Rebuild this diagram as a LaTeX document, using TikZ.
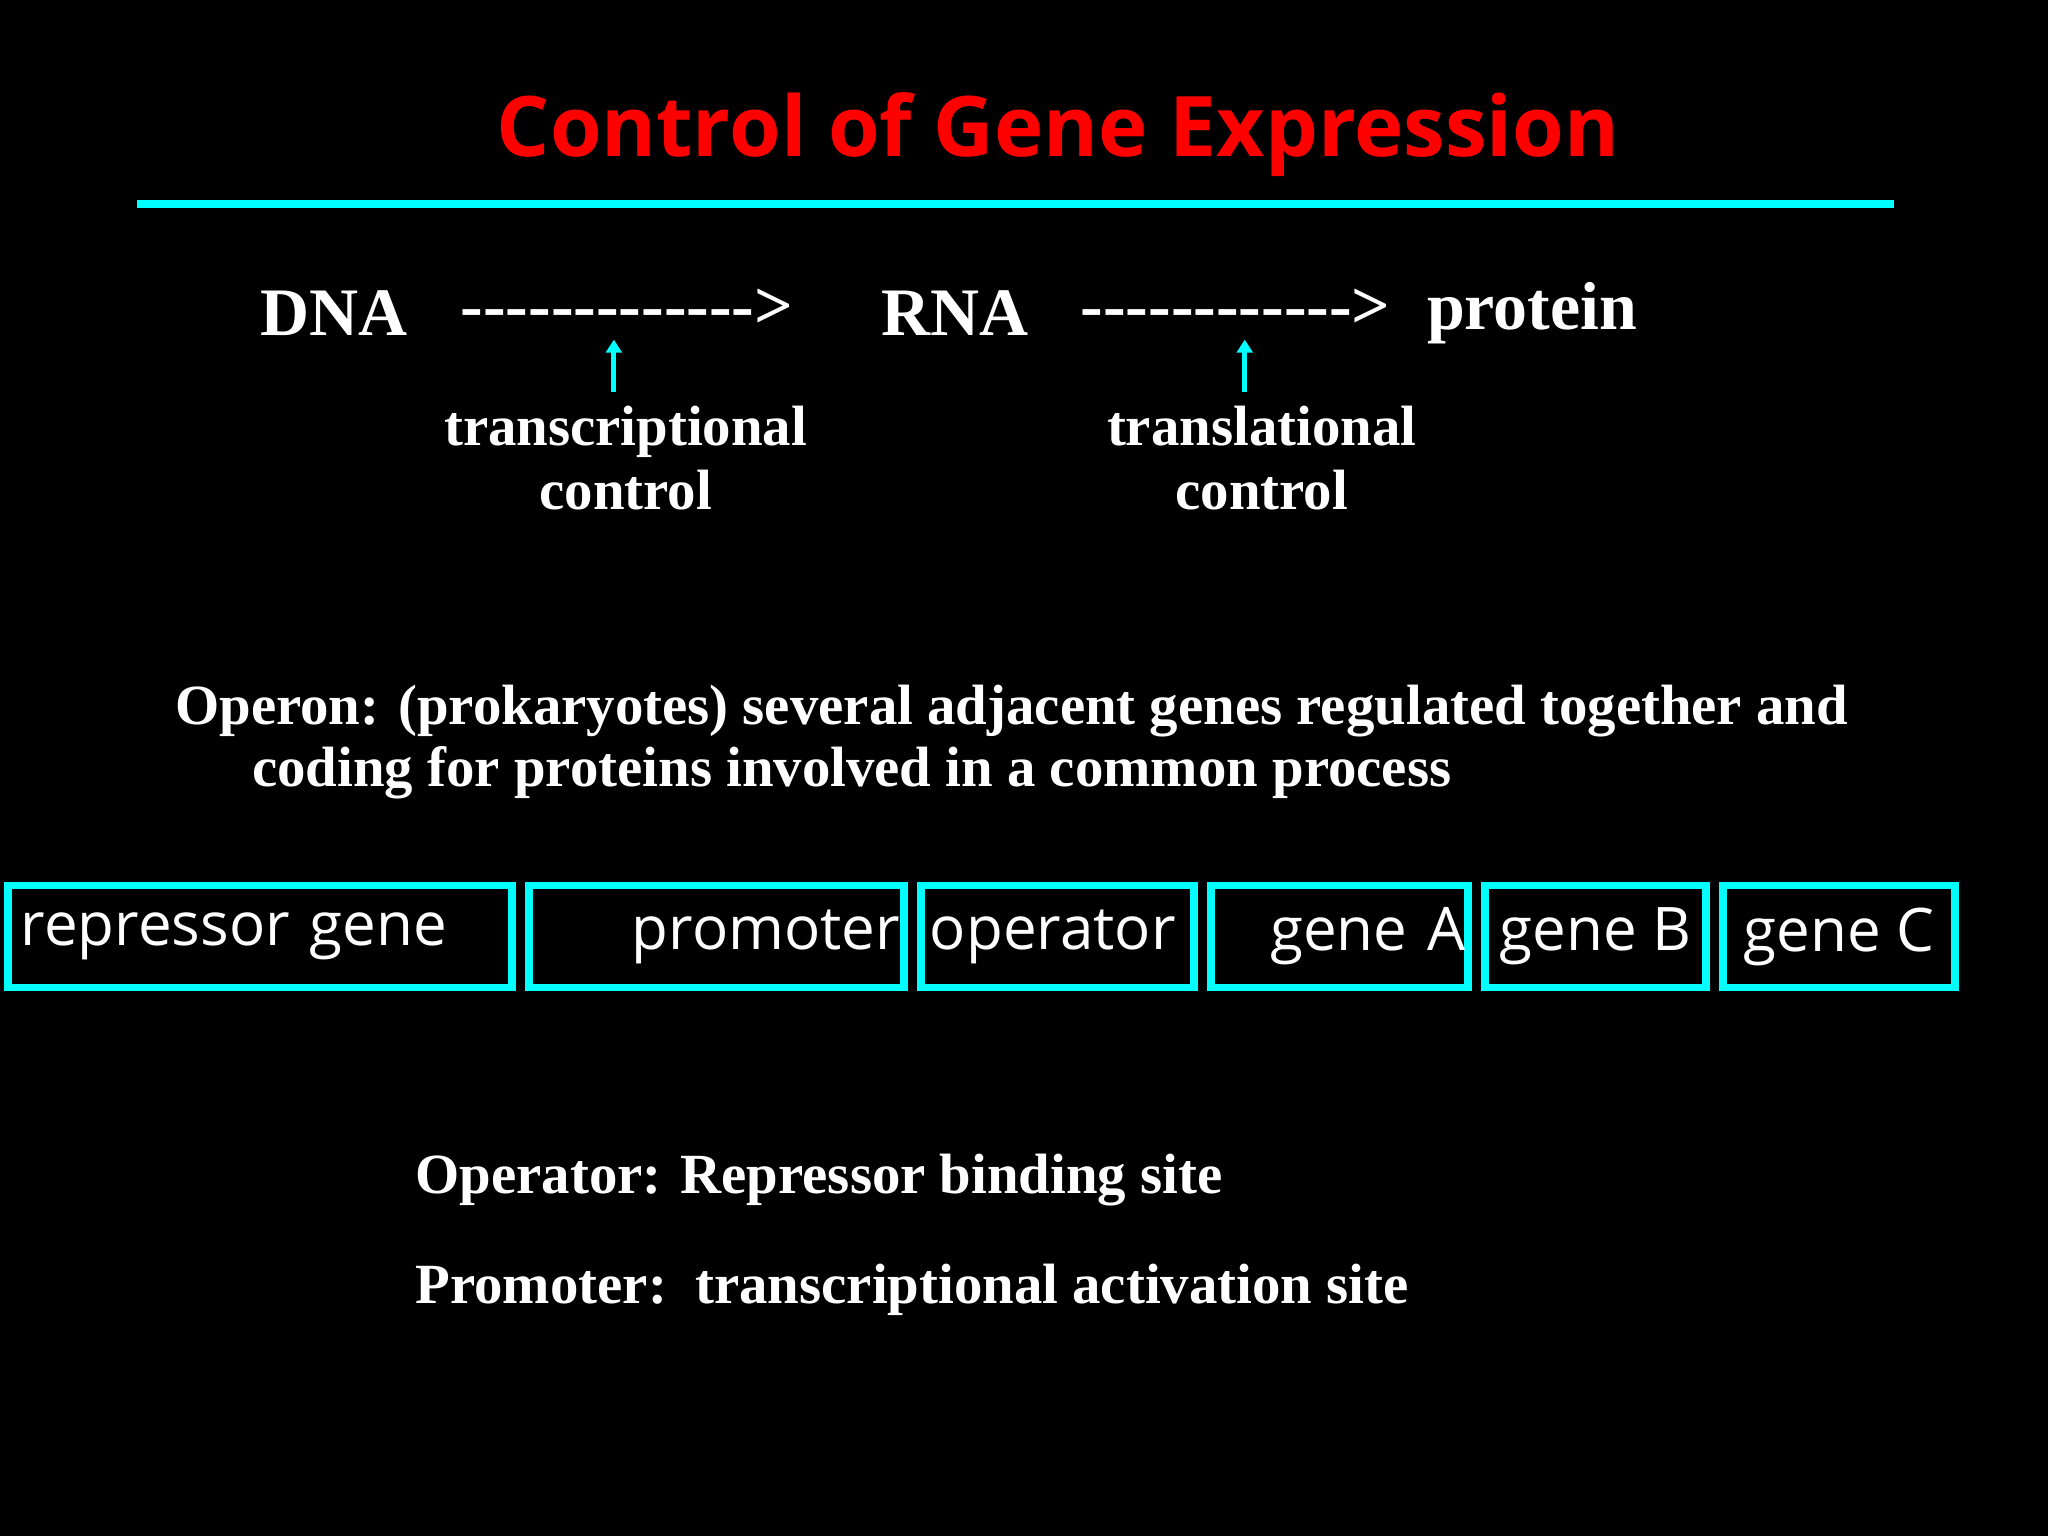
\documentclass[tikz,border=0pt]{standalone}
\usepackage{fontspec}
\setmainfont{Liberation Serif}
\newfontfamily\comic{Open Sans}
\usetikzlibrary{arrows.meta}
\definecolor{cy}{RGB}{0,255,255}
\newcommand{\dsh}[1]{\foreach \i in {1,...,#1}{-\kern0pt}}
\begin{document}
\begin{tikzpicture}[x=1pt,y=-1pt,
  tx/.style={text=white,font=\bfseries\fontsize{43.5}{47}\selectfont,inner sep=0pt},
  big/.style={text=white,font=\bfseries\fontsize{52}{56}\selectfont,inner sep=0pt},
  seg/.style={draw=cy,line width=6pt,text=white,font=\comic\fontsize{46}{50}\selectfont,inner sep=0pt,minimum height=78pt},
  up/.style={draw=cy,line width=4pt,-{Triangle[length=10pt,width=12pt]}}]
\fill[black] (0,0) rectangle (1568,1176);
\useasboundingbox (0,0) rectangle (1568,1176);
\node[text=red,font=\comic\bfseries\fontsize{64}{68}\selectfont] (title) at (810,103) {Control of Gene Expression};
\coordinate (l1) at (105,156); \coordinate (l2) at (1450,156);
\draw[cy,line width=6pt] (l1) -- (l2);
\node[big] (dna) at (256,240) {DNA};
\node[big] (d1) at (480,236) {\dsh{13}>};
\node[big] (rna) at (731,240) {RNA};
\node[big] (d2) at (946,236) {\dsh{12}>};
\node[big] (prot) at (1173,240) {protein};
\node[tx,align=center] (tc) at (479,351) {transcriptional\\[2pt]control};
\node[tx,align=center] (tl) at (966,351) {translational\\[2pt]control};
\coordinate (a1) at (470,300); \coordinate (a1e) at (470,260);
\coordinate (a2) at (953,300); \coordinate (a2e) at (953,260);
\draw[up] (a1) -- (a1e);
\draw[up] (a2) -- (a2e);
\node[tx,anchor=base west] (op1) at (134,555) {Operon: (prokaryotes) several adjacent genes regulated together and};
\node[tx,anchor=base west] (op2) at (193,602) {coding for proteins involved in a common process};
\node[seg,minimum width=386pt,anchor=west,text width=366pt,align=left] (b1) at (3,717) {repressor gene};
\node[seg,minimum width=287pt,anchor=west,text width=281pt,align=right] (b2) at (402,717) {promoter};
\node[seg,minimum width=209pt,anchor=west,text width=195pt,align=left] (b3) at (702,717) {operator};
\node[seg,minimum width=197pt,anchor=west,text width=193pt,align=right] (b4) at (924,717) {gene A};
\node[seg,minimum width=169pt,anchor=west] (b5) at (1134,717) {gene B};
\node[seg,minimum width=178pt,anchor=west] (b6) at (1316,717) {gene C};
\node[tx,anchor=base west] (o) at (318,914) {Operator: Repressor binding site};
\node[tx,anchor=base west] (p) at (318,998) {Promoter:\ \ transcriptional activation site};
\end{tikzpicture}
\end{document}
